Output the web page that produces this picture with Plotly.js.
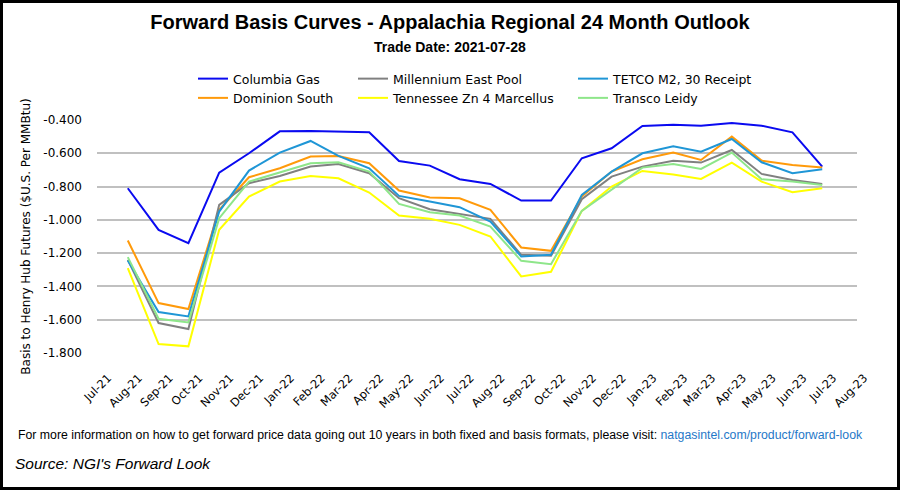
<!DOCTYPE html>
<html>
<head>
<meta charset="utf-8">
<script src="https://cdn.plot.ly/plotly-3.0.1.min.js"></script>
<style>
  html, body { margin: 0; padding: 0; background: #fff; }
  #wrap { position: relative; width: 900px; height: 490px; }
  #chart { width: 900px; height: 490px; }
  #frame { position: absolute; left: 0; top: 0; width: 900px; height: 490px; box-sizing: border-box; border: 3px solid #000; pointer-events: none; }
</style>
</head>
<body>
<div id="wrap"><div id="chart"></div><div id="frame"></div></div>
<script>
// ---- data ----
const months = ['2021-08-01','2021-09-01','2021-10-01','2021-11-01','2021-12-01','2022-01-01',
  '2022-02-01','2022-03-01','2022-04-01','2022-05-01','2022-06-01','2022-07-01',
  '2022-08-01','2022-09-01','2022-10-01','2022-11-01','2022-12-01','2023-01-01',
  '2023-02-01','2023-03-01','2023-04-01','2023-05-01','2023-06-01','2023-07-01'];

const columbiaGas = [-0.81, -1.06, -1.14, -0.716, -0.60, -0.468, -0.466, -0.47, -0.474, -0.646, -0.674, -0.756,
  -0.784, -0.884, -0.884, -0.63, -0.57, -0.436, -0.428, -0.434, -0.418, -0.434, -0.474, -0.68];
const dominionSouth = [-1.124, -1.50, -1.536, -0.94, -0.744, -0.69, -0.62, -0.616, -0.66, -0.824, -0.866, -0.87,
  -0.94, -1.166, -1.186, -0.86, -0.71, -0.636, -0.596, -0.64, -0.50, -0.644, -0.67, -0.686];
const millenniumEast = [-1.24, -1.62, -1.656, -0.91, -0.78, -0.736, -0.68, -0.664, -0.72, -0.87, -0.936, -0.966,
  -0.994, -1.21, -1.216, -0.876, -0.74, -0.68, -0.645, -0.656, -0.58, -0.724, -0.76, -0.784];
const tennesseeZn4 = [-1.29, -1.746, -1.76, -1.06, -0.86, -0.77, -0.736, -0.75, -0.836, -0.974, -0.994, -1.03,
  -1.10, -1.34, -1.312, -0.946, -0.80, -0.706, -0.727, -0.754, -0.656, -0.77, -0.834, -0.81];
const tetcoM2 = [-1.244, -1.554, -1.58, -0.95, -0.704, -0.596, -0.526, -0.616, -0.69, -0.856, -0.89, -0.924,
  -1.01, -1.22, -1.21, -0.85, -0.71, -0.60, -0.558, -0.59, -0.514, -0.654, -0.72, -0.696];
const transcoLeidy = [-1.224, -1.594, -1.616, -0.99, -0.77, -0.716, -0.66, -0.654, -0.71, -0.904, -0.954, -0.974,
  -1.04, -1.246, -1.266, -0.946, -0.816, -0.686, -0.665, -0.694, -0.596, -0.756, -0.77, -0.79];

const yTickVals = [-1.8, -1.6, -1.4, -1.2, -1.0, -0.8, -0.6, -0.4];
const yTickText = ['-1.800', '-1.600', '-1.400', '-1.200', '-1.000', '-0.800', '-0.600', '-0.400'];

// ---- chart ----
const FONT = 'DejaVu Sans, Verdana, sans-serif';
const ARIAL = 'Liberation Sans, Arial, sans-serif';
function line(name, y, color, legend) {
  return { type: 'scatter', mode: 'lines', name: name, x: months, y: y, legend: legend,
    line: { color: color, width: 2 }, hoverinfo: 'x+y+name' };
}
const traces = [
  line('Columbia Gas', columbiaGas, '#0a0af0', 'legend'),
  line('Dominion South', dominionSouth, '#ff9a0a', 'legend'),
  line('Millennium East Pool', millenniumEast, '#808080', 'legend2'),
  line('Tennessee Zn 4 Marcellus', tennesseeZn4, '#ffff00', 'legend2'),
  line('TETCO M2, 30 Receipt', tetcoM2, '#1f96d6', 'legend3'),
  line('Transco Leidy', transcoLeidy, '#8ee68a', 'legend3')
];
const W = 760, H = 233, L = 97, T = 120;
function px2x(p) { return (p - L) / W; }
function py2y(p) { return (T + H - p) / H; }
const legBase = { orientation: 'v', yanchor: 'top', xanchor: 'left', bgcolor: 'rgba(0,0,0,0)',
  font: { family: FONT, size: 12.5, color: '#000' }, tracegroupgap: 0, itemwidth: 30 };
const layout = {
  width: 900, height: 490,
  margin: { l: L, r: 900 - L - W, t: T, b: 490 - T - H },
  paper_bgcolor: '#fff', plot_bgcolor: '#fff',
  showlegend: true,
  title: { text: '<b>Forward Basis Curves - Appalachia Regional 24 Month Outlook</b>',
    font: { family: ARIAL, size: 20, color: '#000' },
    x: 0.5, xanchor: 'center', xref: 'container', y: 1 - 22 / 490, yanchor: 'middle', yref: 'container' },
  legend: Object.assign({}, legBase, { x: px2x(193), y: py2y(64) }),
  legend2: Object.assign({}, legBase, { x: px2x(353), y: py2y(64) }),
  legend3: Object.assign({}, legBase, { x: px2x(573), y: py2y(64) }),
  xaxis: {
    type: 'date', range: ['2021-07-01', '2023-08-05'],
    tick0: '2021-07-01', dtick: 'M1', tickformat: '%b-%y', tickangle: -45,
    tickfont: { family: FONT, size: 11.5, color: '#000' },
    ticklabelstandoff: 15, ticklabelshift: 11,
    showgrid: false, zeroline: false, showline: false, ticks: '', fixedrange: true
  },
  yaxis: {
    range: [-1.8, -0.4], tickvals: yTickVals, ticktext: yTickText,
    tickfont: { family: FONT, size: 12, color: '#000' },
    showgrid: true, gridcolor: '#c0c0c0', gridwidth: 2, zeroline: false, showline: false,
    ticks: '', ticklabelstandoff: 14,
    title: { text: 'Basis to Henry Hub Futures ($U.S. Per MMBtu)', font: { family: FONT, size: 12, color: '#000' }, standoff: 10 },
    fixedrange: true
  },
  annotations: [
    { text: '<b>Trade Date: 2021-07-28</b>', xref: 'paper', yref: 'paper', x: px2x(450), y: py2y(47),
      xanchor: 'center', yanchor: 'middle', showarrow: false,
      font: { family: ARIAL, size: 14, color: '#000' } },
    { text: 'For more information on how to get forward price data going out 10 years in both fixed and basis formats, please visit: <span style="color:#1f78c8">natgasintel.com/product/forward-look</span>',
      xref: 'paper', yref: 'paper', x: px2x(16), y: py2y(435), xanchor: 'left', yanchor: 'middle', showarrow: false,
      font: { family: ARIAL, size: 12.3, color: '#000' } },
    { text: "<i>Source: NGI's Forward Look</i>", xref: 'paper', yref: 'paper', x: px2x(13), y: py2y(463),
      xanchor: 'left', yanchor: 'middle', showarrow: false,
      font: { family: ARIAL, size: 15.5, color: '#000' } }
  ]
};
Plotly.newPlot('chart', traces, layout, { displayModeBar: false, staticPlot: true });
</script>
</body>
</html>
